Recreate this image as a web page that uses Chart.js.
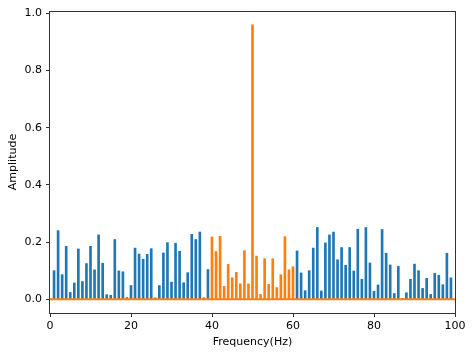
<!DOCTYPE html>
<html>
<head>
<meta charset="utf-8">
<script src="https://cdn.jsdelivr.net/npm/chart.js@4/dist/chart.umd.min.js"></script>
<style>
  html, body { margin: 0; padding: 0; background: #fff; }
  #wrap { width: 474px; height: 356px; }
</style>
</head>
<body>
<div id="wrap"><canvas id="c" width="474" height="356"></canvas></div>
<script>
const blueFreqs = [1,2,3,4,5,6,7,8,9,10,11,12,13,14,15,16,17,18,19,20,21,22,23,24,25,26,27,28,29,30,31,32,33,34,35,36,37,38,39,
  61,62,63,64,65,66,67,68,69,70,71,72,73,74,75,76,77,78,79,80,81,82,83,84,85,86,87,88,89,90,91,92,93,94,95,96,97,98,99];
const blueAmps = [0.100,0.240,0.086,0.185,0.024,0.057,0.176,0.062,0.125,0.185,0.103,0.225,0.126,0.016,0.014,0.209,0.099,0.096,0.006,0.048,
  0.179,0.158,0.140,0.157,0.177,0.005,0.048,0.162,0.198,0.060,0.196,0.168,0.058,0.093,0.227,0.209,0.235,0.005,0.104,
  0.169,0.092,0.030,0.100,0.179,0.251,0.029,0.197,0.225,0.235,0.138,0.181,0.119,0.181,0.099,0.245,0.070,0.251,0.127,0.028,
  0.050,0.244,0.161,0.120,0.020,0.115,0.003,0.023,0.070,0.123,0.100,0.038,0.073,0.017,0.091,0.084,0.051,0.161,0.075];
const orangeFreqs = [40,41,42,43,44,45,46,47,48,49,50,51,52,53,54,55,56,57,58,59,60];
const orangeAmps = [0.218,0.167,0.220,0.045,0.122,0.075,0.094,0.054,0.170,0.054,0.960,0.151,0.017,0.142,0.052,0.142,0.041,0.086,0.219,0.103,0.114];
const baselineX = [0, 100];
const xTickStep = 20;
const yTickStep = 0.2;

const BLUE = '#1f77b4', ORANGE = '#ff7f0e', AX = '#333';
const font = { family: 'DejaVu Sans', size: 11 };

const boxPlugin = {
  id: 'box',
  afterDraw(chart) {
    const { ctx, chartArea: a } = chart;
    ctx.save();
    ctx.strokeStyle = AX;
    ctx.lineWidth = 1;
    ctx.strokeRect(Math.round(a.left) - 0.5, Math.round(a.top) + 0.5,
                   Math.round(a.right - a.left) + 1, Math.round(a.bottom - a.top));
    ctx.restore();
  }
};

new Chart(document.getElementById('c'), {
  type: 'bar',
  data: {
    datasets: [
      {
        type: 'line',
        data: baselineX.map(x => ({ x, y: 0 })),
        borderColor: ORANGE, borderWidth: 2, pointRadius: 0, order: 0
      },
      {
        data: orangeFreqs.map((x, i) => ({ x, y: orangeAmps[i] })),
        backgroundColor: ORANGE, barThickness: 2, grouped: false, order: 1
      },
      {
        data: blueFreqs.map((x, i) => ({ x, y: blueAmps[i] })),
        backgroundColor: BLUE, barThickness: 2, grouped: false, order: 2
      }
    ]
  },
  options: {
    responsive: false,
    animation: false,
    layout: { padding: { top: 11, right: 19, bottom: 0, left: 0 } },
    plugins: { legend: { display: false }, tooltip: { enabled: false } },
    scales: {
      x: {
        type: 'linear', min: 0, max: 100, offset: false,
        afterFit(s) { s.height = 43; },
        ticks: { stepSize: xTickStep, autoSkip: false, font, color: '#000', padding: 3, maxRotation: 0, callback: v => String(v) },
        grid: { display: true, offset: false, drawOnChartArea: false, drawTicks: true, tickLength: 4, color: AX },
        border: { display: false },
        title: { display: true, text: 'Frequency(Hz)', font, color: '#000', padding: { top: 0, bottom: 7 } }
      },
      y: {
        min: -0.048, max: 1.008,
        afterFit(s) { s.width = 50; },
        ticks: { stepSize: yTickStep, includeBounds: false, autoSkip: false, font, color: '#000', padding: 4, callback: v => Number(v).toFixed(1) },
        grid: { display: true, offset: false, drawOnChartArea: false, drawTicks: true, tickLength: 4, color: AX },
        border: { display: false },
        title: { display: true, text: 'Amplitude', font, color: '#000', padding: { top: 7, bottom: 0 } }
      }
    }
  },
  plugins: [boxPlugin]
});
</script>
</body>
</html>
